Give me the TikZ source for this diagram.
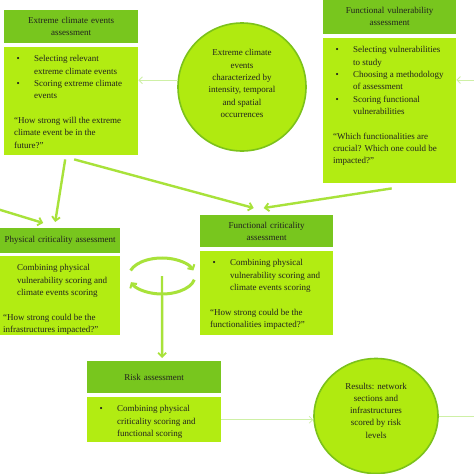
\documentclass[tikz,border=0pt]{standalone}
\usepackage{fontspec}
\setmainfont{Liberation Serif}
\usetikzlibrary{arrows.meta,shapes.geometric,calc}
\definecolor{headgreen}{RGB}{120,198,30}
\definecolor{bodygreen}{RGB}{178,236,18}
\definecolor{circfill}{RGB}{176,234,16}
\definecolor{circline}{RGB}{124,194,26}
\definecolor{thickarr}{RGB}{168,226,58}
\definecolor{thinarr}{RGB}{206,240,166}
\definecolor{txt}{RGB}{34,34,30}
\newcommand\txtfont{\fontsize{9}{12.3}\selectfont}
\newcommand\bitem[1]{\par\noindent\hangindent=20pt\hangafter=1\makebox[20pt][l]{\hspace{2.5pt}\textbullet}#1\par}
\newcommand\gap{\par\vspace{\baselineskip}}
\newcommand\bodytext[3]{\parbox[c][#1][t]{#2}{\raggedright\txtfont\vspace*{8.5pt}#3}}
\tikzset{
  head/.style={fill=headgreen, anchor=north west, inner sep=0pt, align=center, text=txt, font=\txtfont},
  body/.style={fill=bodygreen, anchor=north west, inner xsep=10pt, inner ysep=0pt, text=txt},
  bubble/.style={fill=circfill, draw=circline, line width=1.6pt, circle, inner sep=0pt, align=center, text=txt, font=\txtfont},
  thickarrow/.style={draw=thickarr, line width=2.4pt, -{Straight Barb[length=4pt,width=8pt,line width=1.8pt]}},
  thinarrow/.style={draw=thinarr, line width=1pt, -{Straight Barb[length=3.5pt,width=7pt,line width=0.8pt]}},
  thinline/.style={draw=thinarr, line width=1pt},
  looparrow/.style={draw=thickarr, line width=3pt, -{Straight Barb[length=3.5pt,width=8pt,line width=2pt]}}
}
\begin{document}
\begin{tikzpicture}[x=1pt,y=-1pt]
\useasboundingbox[fill=white] (0,0) rectangle (474,474);
\clip (0,0) rectangle (474,474);

% Extreme climate events assessment
\node[head, minimum width=134pt, minimum height=33pt, text width=124pt] (b1h) at (4,10) {Extreme climate events\\assessment};
\node[body, minimum width=134pt] (b1b) at (4,47) {\bodytext{108pt}{114pt}{%
\bitem{Selecting relevant\newline extreme climate events}
\bitem{Scoring extreme climate\newline events}
\gap\noindent ``How strong will the extreme\\ climate event be in the\\ future?''}};

% Functional vulnerability assessment
\node[head, minimum width=133pt, minimum height=35pt, text width=123pt] (b2h) at (323,-1) {Functional vulnerability\\assessment};
\node[body, minimum width=133pt] (b2b) at (323,38) {\bodytext{145pt}{113pt}{%
\bitem{Selecting vulnerabilities\newline to study}
\bitem{Choosing a methodology\newline of assessment}
\bitem{Scoring functional\newline vulnerabilities}
\gap\noindent ``Which functionalities are\\ crucial? Which one could be\\ impacted?''}};

% Extreme climate events circle
\node[bubble, minimum size=128pt, text depth=7pt] (c1) at (242,87) {Extreme climate\\events\\characterized by\\intensity, temporal\\and spatial\\occurrences};

% Physical criticality assessment
\node[head, minimum width=120pt, minimum height=25pt, text width=118pt] (b3h) at (0,228) {Physical criticality assessment};
\node[body, minimum width=120pt, inner xsep=3pt] (b3b) at (0,256) {\bodytext{79pt}{114pt}{%
\par\noindent\hangindent=14pt\hangafter=0 Combining physical\newline vulnerability scoring and\newline climate events scoring\par
\gap\noindent ``How strong could be the\\ infrastructures impacted?''}};

% Functional criticality assessment
\node[head, minimum width=133pt, minimum height=32pt, text width=123pt] (b4h) at (200,215) {Functional criticality\\assessment};
\node[body, minimum width=133pt] (b4b) at (200,251) {\bodytext{84pt}{113pt}{%
\bitem{Combining physical\newline vulnerability scoring and\newline climate events scoring}
\gap\noindent ``How strong could be the\\ functionalities impacted?''}};

% Risk assessment
\node[head, minimum width=134pt, minimum height=32pt, text width=124pt] (b5h) at (87,361) {Risk assessment};
\node[body, minimum width=134pt] (b5b) at (87,397) {\bodytext{45pt}{114pt}{%
\bitem{Combining physical\newline criticality scoring and\newline functional scoring}}};

% Results ellipse
\node[bubble, ellipse, minimum width=124pt, minimum height=115pt, text depth=11pt] (res) at (376,416) {Results: network\\sections and\\infrastructures\\scored by risk\\levels};

% free ends
\coordinate (rin) at (476,80);
\coordinate (rout) at (476,416);
\coordinate (lin) at (-6,208);
\coordinate (loop) at (162,276);

% thin connectors
\draw[thinarrow] (c1.174) -- (b1b.east |- c1.174);
\draw[thinarrow] (rin) -- (b2b.east |- rin);
\draw[thinarrow] (b5b.east) -- (res.west |- b5b.east);
\draw[thinline] (res.east) -- (rout);

% thick connectors
\draw[thickarrow] ([xshift=-6pt,yshift=-4pt]b1b.south) -- ([xshift=-5pt,yshift=6pt]b3h.north);
\draw[thickarrow] (lin) -- ([xshift=-17pt,yshift=5pt]b3h.north);
\draw[thickarrow] ([xshift=3pt,yshift=-4pt]b1b.south) -- ([xshift=-13pt,yshift=7pt]b4h.north);
\draw[thickarrow] ([xshift=2pt,yshift=-5pt]b2b.south) -- ([xshift=-3pt,yshift=7pt]b4h.north);
\draw[thickarrow] (loop) -- ([xshift=8pt,yshift=3pt]b5h.north);

% circular arrows
\draw[looparrow] ([shift={(-162:33 and 18)}]loop) arc[start angle=-162, end angle=-18, x radius=33, y radius=18];
\draw[looparrow] ([shift={(12:33 and 18)}]loop) arc[start angle=12, end angle=160, x radius=33, y radius=18];
\end{tikzpicture}
\end{document}
